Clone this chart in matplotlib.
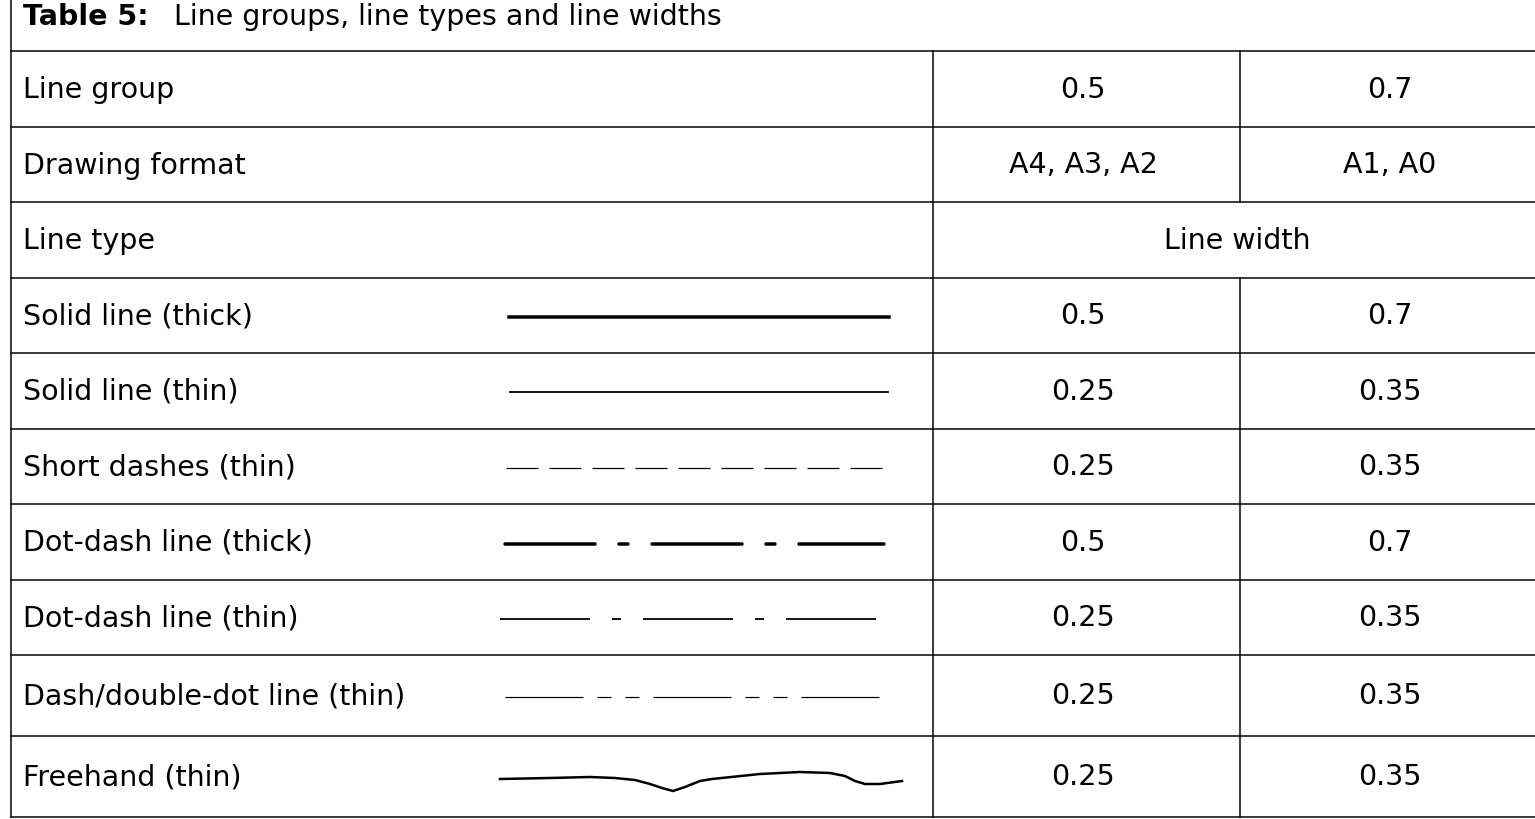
import matplotlib
matplotlib.use("Agg")
import matplotlib.pyplot as plt

plt.rcParams['lines.scale_dashes'] = False
title_bold = "Table 5:"
title_rest = "Line groups, line types and line widths"
header_rows = [("Line group", "0.5", "0.7"), ("Drawing format", "A4, A3, A2", "A1, A0")]
subheader = ("Line type", "Line width")
line_types = ["Solid line (thick)", "Solid line (thin)", "Short dashes (thin)", "Dot-dash line (thick)",
              "Dot-dash line (thin)", "Dash/double-dot line (thin)", "Freehand (thin)"]
width_05 = ["0.5", "0.25", "0.25", "0.5", "0.25", "0.25", "0.25"]
width_07 = ["0.7", "0.35", "0.35", "0.7", "0.35", "0.35", "0.35"]
freehand_x = [500, 550, 590, 615, 635, 650, 662, 673, 685, 700, 712, 760, 800, 830, 845, 855, 865, 880, 902]
freehand_y = [780, 779, 778, 779, 781, 785, 789, 792, 788, 782, 780, 775, 773, 774, 777, 782, 785, 785, 782]

PX = 0.72
fig = plt.figure(figsize=(15.35, 8.2), dpi=100)
ax = fig.add_axes([0, 0, 1, 1])
ax.set_xlim(0, 1535); ax.set_ylim(820, 0); ax.axis('off')

hlines = [52, 128, 203, 279, 354, 430, 505, 581, 656, 737, 818]
for y in hlines:
    ax.plot([11, 1535], [y, y], color='black', lw=1.5*PX)
ax.plot([11, 11], [0, 818], color='black', lw=1.5*PX)
ax.plot([933, 933], [52, 818], color='black', lw=1.5*PX)
ax.plot([1240, 1240], [52, 203], color='black', lw=1.5*PX)
ax.plot([1240, 1240], [279, 818], color='black', lw=1.5*PX)

fs = 20.5
ax.text(23, 17, title_bold, fontsize=fs, fontweight='bold', va='center')
ax.text(174, 17, title_rest, fontsize=fs, va='center')

def cy(i):
    return (hlines[i] + hlines[i+1]) / 2

for i, (a, b, c) in enumerate(header_rows):
    ax.text(23, cy(i), a, fontsize=fs, va='center')
    ax.text(1083, cy(i), b, fontsize=fs, va='center', ha='center')
    ax.text(1390, cy(i), c, fontsize=fs, va='center', ha='center')
ax.text(23, cy(2), subheader[0], fontsize=fs, va='center')
ax.text(1237, cy(2), subheader[1], fontsize=fs, va='center', ha='center')
for k, name in enumerate(line_types):
    i = k + 3
    ax.text(23, cy(i), name, fontsize=fs, va='center')
    ax.text(1083, cy(i), width_05[k], fontsize=fs, va='center', ha='center')
    ax.text(1390, cy(i), width_07[k], fontsize=fs, va='center', ha='center')

def d(*px):
    return [p*PX for p in px]
ax.plot([509, 889], [318, 318], color='black', lw=3.5*PX)
ax.plot([510, 888], [393, 393], color='black', lw=1.8*PX)
l, = ax.plot([506, 883], [469, 469], color='black', lw=1.2*PX); l.set_dashes(d(32, 11))
l, = ax.plot([505, 884], [545, 545], color='black', lw=3.5*PX, solid_capstyle='round', dash_capstyle='round'); l.set_dashes(d(90, 24, 9, 24))
l, = ax.plot([500, 878], [620, 620], color='black', lw=1.8*PX); l.set_dashes(d(90, 22, 9, 22))
l, = ax.plot([505, 882], [698, 698], color='black', lw=1.2*PX); l.set_dashes(d(78, 14, 14, 14, 14, 14))
ax.plot(freehand_x, freehand_y, color='black', lw=2.5*PX, solid_joinstyle='round')

fig.savefig("out.png", dpi=100)
